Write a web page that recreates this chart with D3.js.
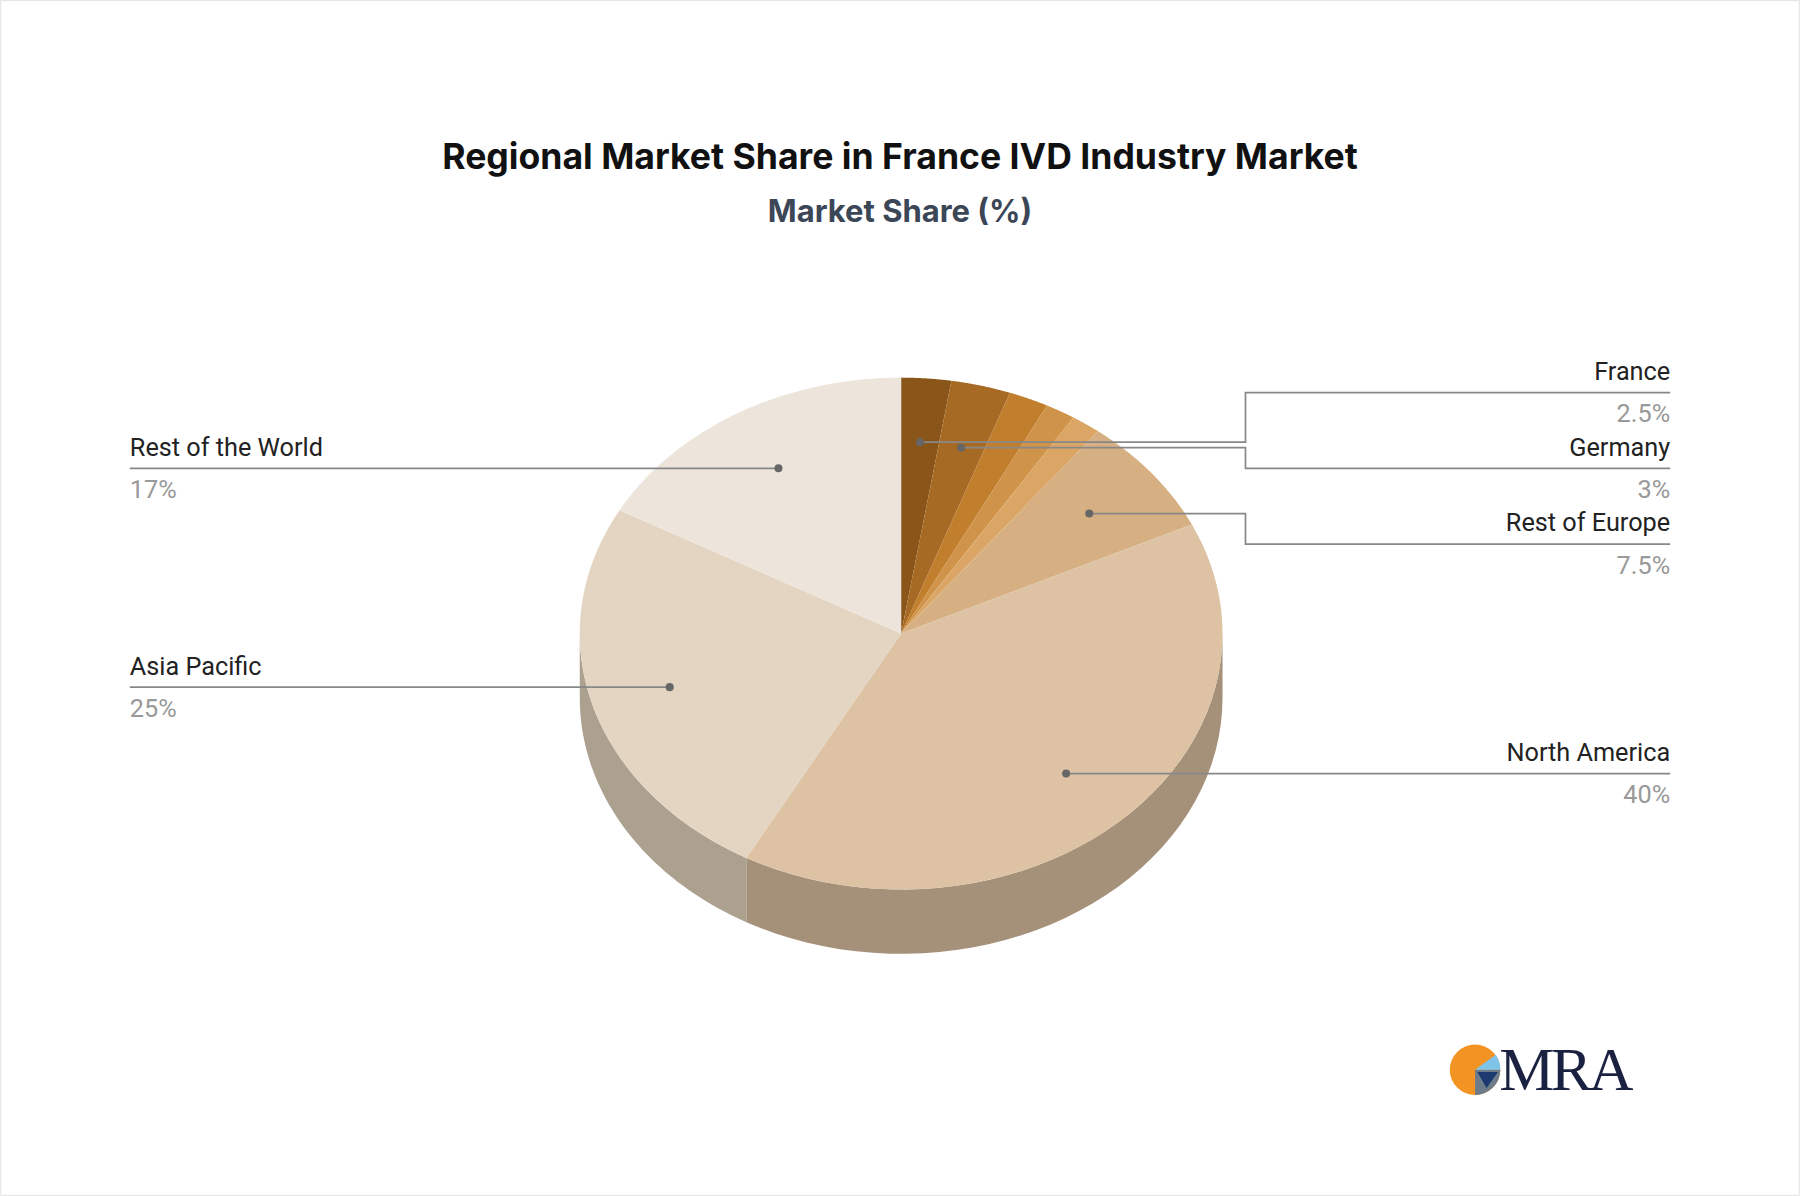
<!DOCTYPE html>
<html><head><meta charset="utf-8">
<script src="https://cdn.jsdelivr.net/npm/d3@7"></script>
<style>body{margin:0;background:#fff}svg{display:block}</style>
</head><body>
<svg id="chart" width="1800" height="1196" viewBox="0 0 1568 1042"></svg>
<script>
// slices clockwise from 12 o'clock
var regions = ['France', 'Germany', 'United Kingdom', 'Italy', 'Spain', 'Rest of Europe', 'North America', 'Asia Pacific', 'Rest of the World'];
var shares = [2.5, 3, 2, 1.5, 1.5, 7.5, 40, 25, 17];
var labelled = ['France', 'Germany', 'Rest of Europe', 'North America', 'Asia Pacific', 'Rest of the World'];
var labelText = ['2.5%', '3%', '7.5%', '40%', '25%', '17%'];
var topColors = ['#8a5519', '#a66a24', '#c17f2e', '#d0934a', '#dba665', '#d6b083', '#ddc3a3', '#e4d5c3', '#ede4db'];
var sideColors = ['#6e4a20', '#80582a', '#8e6535', '#987045', '#a07a50', '#a58d72', '#a5907a', '#aca08f', '#b8ada2'];

var svg = d3.select('#chart');
svg.append('rect').attr('x', 0.5).attr('y', 0.5).attr('width', 1567).attr('height', 1041)
	.attr('fill', '#fff').attr('stroke', '#e6e6e6');

svg.append('text').attr('x', 784).attr('y', 147).attr('text-anchor', 'middle')
	.style('font', 'bold 31px Inter, sans-serif').attr('fill', '#111')
	.text('Regional Market Share in France IVD Industry Market');
svg.append('text').attr('x', 784).attr('y', 193).attr('text-anchor', 'middle')
	.style('font', 'bold 27px Inter, sans-serif').attr('fill', '#3b4656')
	.text('Market Share (%)');

var cx = 785, cy = 552, rx = 280, ry = 223, depth = 56;
var pie = d3.pie().sort(null).value(function (d) { return d; });
var arcs = pie(shares);

function pt(a, k, dy) {
	k = k || 1; dy = dy || 0;
	return [cx + rx * k * Math.sin(a), cy - ry * k * Math.cos(a) + dy];
}

// side walls: only visible for angles between 90 and 270 degrees
var g = svg.append('g');
arcs.forEach(function (d, i) {
	var a0 = Math.max(d.startAngle, Math.PI / 2), a1 = Math.min(d.endAngle, Math.PI * 1.5);
	if (a1 <= a0) return;
	var n = 40, pts = [];
	for (var j = 0; j <= n; j++) pts.push(pt(a0 + (a1 - a0) * j / n));
	for (var j = n; j >= 0; j--) pts.push(pt(a0 + (a1 - a0) * j / n, 1, depth));
	g.append('path').attr('d', d3.line()(pts) + 'Z').attr('fill', sideColors[i]);
});

// top faces
arcs.forEach(function (d, i) {
	var n = 60, pts = [[cx, cy]];
	for (var j = 0; j <= n; j++) pts.push(pt(d.startAngle + (d.endAngle - d.startAngle) * j / n));
	g.append('path').attr('d', d3.line()(pts) + 'Z').attr('fill', topColors[i]);
});

// labels
var right = [{ name: 'France', y: 342 }, { name: 'Germany', y: 408 }, { name: 'Rest of Europe', y: 474 }, { name: 'North America', y: 675 }];
var left = [{ name: 'Rest of the World', y: 408 }, { name: 'Asia Pacific', y: 600 }];
var elbowX = 1085, rightX = 1455, leftX = 113;

function drawLabel(o, side) {
	var i = regions.indexOf(o.name), d = arcs[i];
	var p = pt((d.startAngle + d.endAngle) / 2, 0.75);
	var pts;
	if (side === 'right') {
		if (Math.abs(p[1] - o.y) < 6) { o.y = p[1]; pts = [p, [rightX, o.y]]; }
		else pts = [p, [elbowX, p[1]], [elbowX, o.y], [rightX, o.y]];
	} else {
		o.y = p[1];
		pts = [p, [leftX, o.y]];
	}
	svg.append('path').attr('d', d3.line()(pts)).attr('fill', 'none').attr('stroke', '#888').attr('stroke-width', 1.5);
	svg.append('circle').attr('cx', p[0]).attr('cy', p[1]).attr('r', 3.5).attr('fill', '#666');
	var x = side === 'right' ? rightX : leftX, anchor = side === 'right' ? 'end' : 'start';
	svg.append('text').attr('x', x).attr('y', o.y - 11).attr('text-anchor', anchor)
		.style('font', '22px Roboto, sans-serif').attr('fill', '#222').text(o.name);
	svg.append('text').attr('x', x).attr('y', o.y + 26).attr('text-anchor', anchor)
		.style('font', '22px Roboto, sans-serif').attr('fill', '#999')
		.text(labelText[labelled.indexOf(o.name)]);
}
right.forEach(function (o) { drawLabel(o, 'right'); });
left.forEach(function (o) { drawLabel(o, 'left'); });

// logo
var logo = svg.append('g').attr('transform', 'translate(1285,932)');
logo.append('circle').attr('r', 22).attr('fill', '#f39323');
logo.append('path').attr('d', 'M0,0 L22,0 A22,22 0 0,1 0,22 Z').attr('fill', '#6d7b8a');
logo.append('path').attr('d', 'M0,0 L18,-13 A22,22 0 0,1 22,0 Z').attr('fill', '#7fc4ea');
logo.append('path').attr('d', 'M2,2 L20,2 L10,16 Z').attr('fill', '#1c3a70');
svg.append('text').attr('x', 1306).attr('y', 950).style('font', '54px "Liberation Serif", serif')
	.attr('fill', '#1b2140').attr('letter-spacing', -3).text('MRA');
</script>
</body></html>
